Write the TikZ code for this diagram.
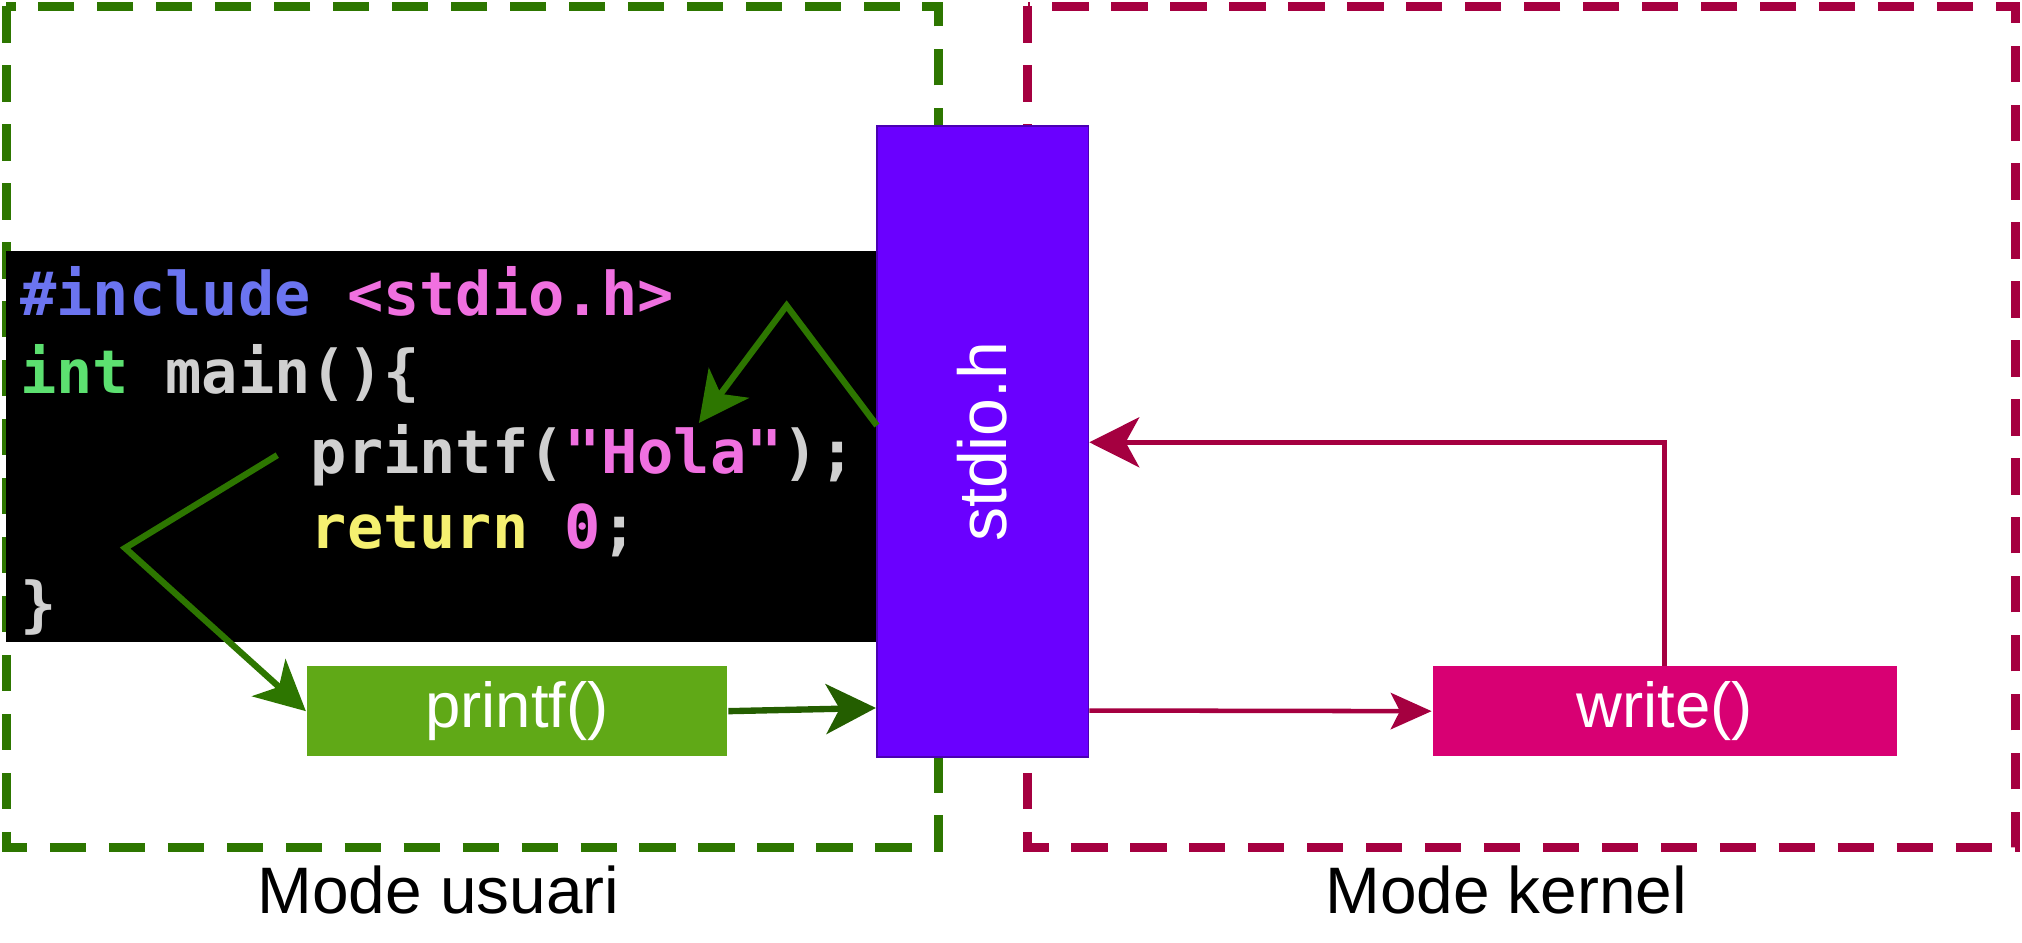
\documentclass[tikz,border=0pt]{standalone}
\usepackage{fontspec}
\setmainfont{Liberation Sans}
\newfontfamily\codefont{DejaVu Sans Mono}
\usetikzlibrary{arrows.meta}
\definecolor{ugreen}{HTML}{2D7600}
\definecolor{kred}{HTML}{A50040}
\definecolor{pgreen}{HTML}{60A917}
\definecolor{wpink}{HTML}{D80073}
\definecolor{spurple}{HTML}{6A00FF}
\definecolor{cblue}{HTML}{6B74F0}
\definecolor{cpink}{HTML}{F070E0}
\definecolor{cgreen}{HTML}{5CE070}
\definecolor{cyellow}{HTML}{F5F070}
\definecolor{cgrey}{HTML}{D0D0D0}
\begin{document}
\begin{tikzpicture}[x=0.01cm,y=-0.01cm,
  frame/.style={line width=1.9pt,dash pattern=on 8pt off 5pt},
  box/.style={draw=none,minimum height=0.69cm,text=white,font=\fontsize{14}{17}\selectfont},
  arr/.style={line width=1.4pt,-{Stealth[length=11pt,width=11pt,inset=3pt]}},
  code/.style={anchor=base west,font=\codefont\bfseries\fontsize{13.3}{16}\selectfont,inner sep=0pt},
  lab/.style={font=\fontsize{14.5}{17}\selectfont}]
\useasboundingbox (0,0) rectangle (1568,731);
\draw[frame,ugreen] (5,5) rectangle (728,657);
\draw[frame,kred] (797,5) rectangle (1563,657);
\fill[black] (5,195) rectangle (680,498);
\node[code] (l1) at (15,245) {\textcolor{cblue}{\#include} \textcolor{cpink}{<stdio.h>}};
\node[code] (l2) at (15,305) {\textcolor{cgreen}{int} \textcolor{cgrey}{main()\{}};
\node[code] (l3) at (15,367) {\textcolor{cgrey}{\ \ \ \ \ \ \ \ printf(}\textcolor{cpink}{"Hola"}\textcolor{cgrey}{);}};
\node[code] (l4) at (15,425) {\ \ \ \ \ \ \ \ \textcolor{cyellow}{return} \textcolor{cpink}{0}\textcolor{cgrey}{;}};
\node[code] (l5) at (15,485) {\textcolor{cgrey}{\}}};
\node[fill=spurple,draw=spurple!70!black,minimum width=1.64cm,minimum height=4.89cm,inner sep=0] (std) at (762,342.5) {};
\node[rotate=90,text=white,font=\fontsize{15}{18}\selectfont] at (std.center) {stdio.h};
\node[box,fill=pgreen,minimum width=3.26cm] (pf) at (401,551.5) {printf()};
\node[box,fill=wpink,minimum width=3.6cm] (wr) at (1291,551.5) {write()};
\coordinate (a1) at (610,237);
\coordinate (a2) at (542,328);
\draw[arr,ugreen] (680,330) -- (a1) -- (a2);
\coordinate (b0) at (215,353);
\coordinate (b1) at (97,425);
\draw[arr,ugreen] (b0) -- (b1) -- (pf.west);
\draw[arr,ugreen!80!black] (pf.east) -- (std.west |- 0,549);
\draw[kred,line width=1pt,-{Stealth[length=9pt,width=8pt,inset=2pt]}] (std.east |- 0,551) -- (wr.west);
\draw[arr,kred,line width=1.1pt] (wr.north) -- (1291,343) -- (std.east |- 0,343);
\node[lab] (mu) at (340,690) {Mode usuari};
\node[lab] (mk) at (1168,690) {Mode kernel};
\end{tikzpicture}
\end{document}
